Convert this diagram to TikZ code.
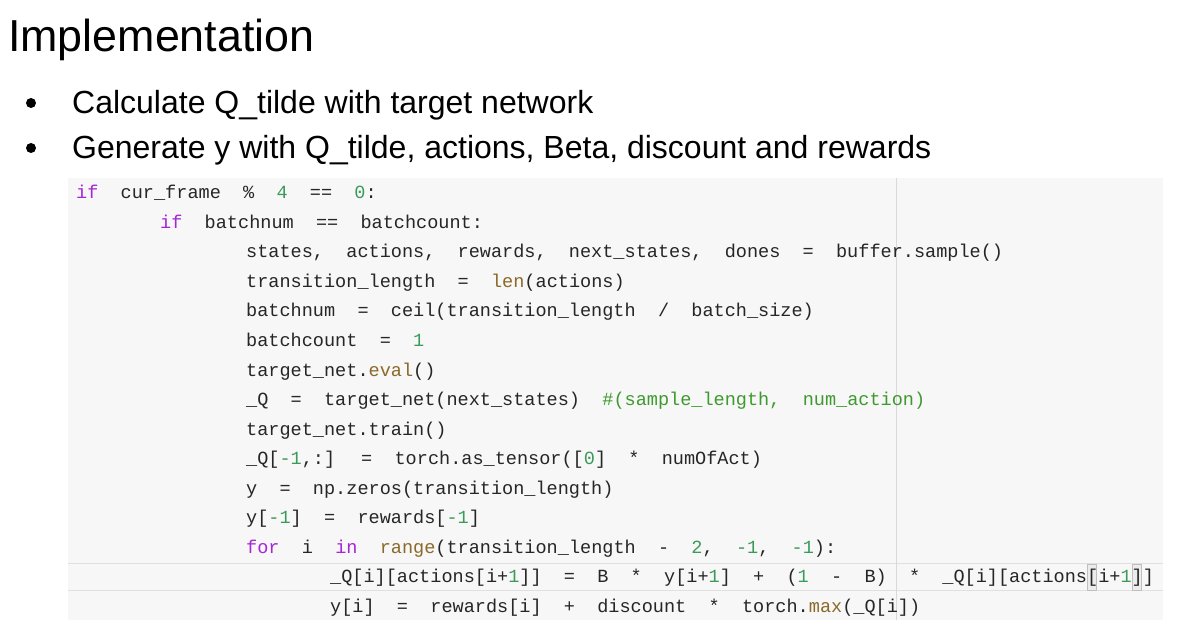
\documentclass[tikz,border=0pt]{standalone}
\usepackage{fontspec}
\setmainfont{Liberation Sans}
\newfontfamily\codef[WordSpace=2]{Liberation Mono}
\definecolor{kwc}{HTML}{A626D8}
\definecolor{numc}{HTML}{3A9A5A}
\definecolor{bic}{HTML}{8A6A2A}
\definecolor{cmc}{HTML}{3E9A2E}
\definecolor{codebg}{HTML}{F7F7F7}
\newcommand{\kw}[1]{\textcolor{kwc}{#1}}
\newcommand{\nm}[1]{\textcolor{numc}{#1}}
\newcommand{\bi}[1]{\textcolor{bic}{#1}}
\newcommand{\cm}[1]{\textcolor{cmc}{#1}}
\begin{document}
\begin{tikzpicture}[x=1pt,y=-1pt,
  code/.style={anchor=base west,inner sep=0pt,font=\codef\fontsize{18.55}{20}\selectfont,text=black!85},
  bul/.style={anchor=base west,inner sep=0pt,font=\fontsize{32}{34}\selectfont},
  dot/.style={circle,fill=black,inner sep=0pt,minimum size=10pt},
  hl/.style={draw=black!25,fill=green!6!black!8}]
\useasboundingbox (0,0) rectangle (1193,639);
\fill[white] (0,0) rectangle (1193,639);
\node[anchor=base west,inner sep=0pt,font=\fontsize{44.8}{48}\selectfont] (title) at (8,52) {Implementation};
\node[dot] (b1) at (31,103) {};
\node[bul] (t1) at (72,114) {Calculate Q\_tilde with target network};
\node[dot] (b2) at (31,148) {};
\node[bul] (t2) at (72,159) {Generate y with Q\_tilde, actions, Beta, discount and rewards};
\fill[codebg] (68,178) rectangle (1163,620);
\draw[black!12] (68,563) -- (1163,563);
\draw[black!12] (68,590) -- (1163,590);
\draw[black!15] (896,178) -- (896,620);
\draw[hl] (1087,564) rectangle (1096,590);
\draw[hl] (1132,564) rectangle (1141,590);
\def\A{76}\def\B{160}\def\C{246}\def\D{330}
\node[code] (l1) at (\A,198) {\kw{if} cur\_frame \% \nm{4} == \nm{0}:};
\node[code] (l2) at (\B,228) {\kw{if} batchnum == batchcount:};
\node[code] (l3) at (\C,257) {states, actions, rewards, next\_states, dones = buffer.sample()};
\node[code] (l4) at (\C,287) {transition\_length = \bi{len}(actions)};
\node[code] (l5) at (\C,316) {batchnum = ceil(transition\_length / batch\_size)};
\node[code] (l6) at (\C,346) {batchcount = \nm{1}};
\node[code] (l7) at (\C,376) {target\_net.\bi{eval}()};
\node[code] (l8) at (\C,405) {\_Q = target\_net(next\_states) \cm{\#(sample\_length, num\_action)}};
\node[code] (l9) at (\C,435) {target\_net.train()};
\node[code] (l10) at (\C,464) {\_Q[\nm{-1},:] = torch.as\_tensor([\nm{0}] * numOfAct)};
\node[code] (l11) at (\C,494) {y = np.zeros(transition\_length)};
\node[code] (l12) at (\C,523) {y[\nm{-1}] = rewards[\nm{-1}]};
\node[code] (l13) at (\C,553) {\kw{for} i \kw{in} \bi{range}(transition\_length - \nm{2}, \nm{-1}, \nm{-1}):};
\node[code] (l14) at (\D,582) {\_Q[i][actions[i+\nm{1}]] = B * y[i+\nm{1}] + (\nm{1} - B) * \_Q[i][actions[i+\nm{1}]]};
\node[code] (l15) at (\D,612) {y[i] = rewards[i] + discount * torch.\bi{max}(\_Q[i])};
\end{tikzpicture}
\end{document}
